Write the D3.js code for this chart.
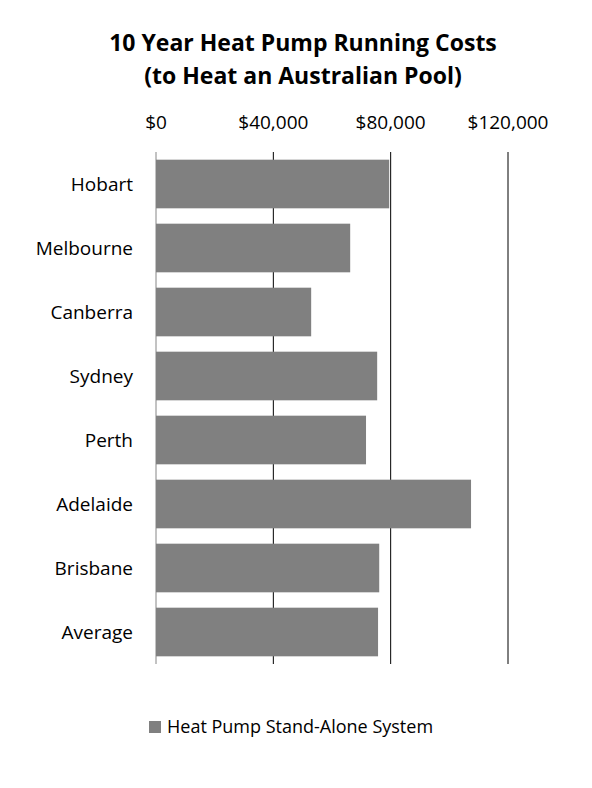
<!DOCTYPE html>
<html>
<head>
<meta charset="utf-8">
<script src="https://cdn.jsdelivr.net/npm/d3@7"></script>
<style>
  body { margin: 0; background: #fff; }
  text { font-family: "Open Sans", "Noto Sans", sans-serif; }
</style>
</head>
<body>
<svg id="chart" width="592" height="788"></svg>
<script>
// chart data
let cities = ['Hobart', 'Melbourne', 'Canberra', 'Sydney', 'Perth', 'Adelaide', 'Brisbane', 'Average'];
let costs = [79500, 66200, 52900, 75400, 71600, 107400, 76100, 75700];
let tickValues = [0, 40000, 80000, 120000];
let seriesName = 'Heat Pump Stand-Alone System';

let svg = d3.select('#chart');

// plot area
let margL = 156;
let plotW = 352; // $0 -> $120,000
let margT = 152;
let plotH = 512;

let xScale = d3.scaleLinear().domain([0, 120000]).range([margL, margL + plotW]);
let yScale = d3.scaleBand().domain(cities).range([margT, margT + plotH]).paddingInner(0.24).paddingOuter(0.12);

// title
svg.append('text').attr('x', 303).attr('y', 51).attr('text-anchor', 'middle')
    .style('font-size', '23px').style('font-weight', 'bold').text('10 Year Heat Pump Running Costs');
svg.append('text').attr('x', 303).attr('y', 84).attr('text-anchor', 'middle')
    .style('font-size', '23px').style('font-weight', 'bold').text('(to Heat an Australian Pool)');

// gridlines
svg.append('g').selectAll('line').data(tickValues).enter().append('line')
    .attr('x1', d => xScale(d)).attr('x2', d => xScale(d))
    .attr('y1', margT).attr('y2', margT + plotH)
    .attr('stroke', d => d === 0 ? '#868686' : '#000').attr('stroke-width', 1);

// top axis labels
let fmt = d => '$' + d3.format(',')(d);
svg.append('g').selectAll('text').data(tickValues).enter().append('text')
    .attr('x', d => xScale(d)).attr('y', 129).attr('text-anchor', 'middle')
    .style('font-size', '19px').text(fmt);

// bars
svg.append('g').selectAll('rect').data(cities).enter().append('rect')
    .attr('x', xScale(0)).attr('y', d => yScale(d))
    .attr('width', (d, i) => xScale(costs[i]) - xScale(0))
    .attr('height', yScale.bandwidth())
    .attr('fill', '#808080');

// category labels
svg.append('g').selectAll('text').data(cities).enter().append('text')
    .attr('x', 133).attr('y', d => yScale(d) + yScale.bandwidth() / 2)
    .attr('dy', '0.35em').attr('text-anchor', 'end')
    .style('font-size', '19px').text(d => d);

// legend
svg.append('rect').attr('x', 149).attr('y', 721).attr('width', 12).attr('height', 12).attr('fill', '#808080');
svg.append('text').attr('x', 167).attr('y', 727).attr('dy', '0.35em')
    .style('font-size', '18px').text(seriesName);
</script>
</body>
</html>
